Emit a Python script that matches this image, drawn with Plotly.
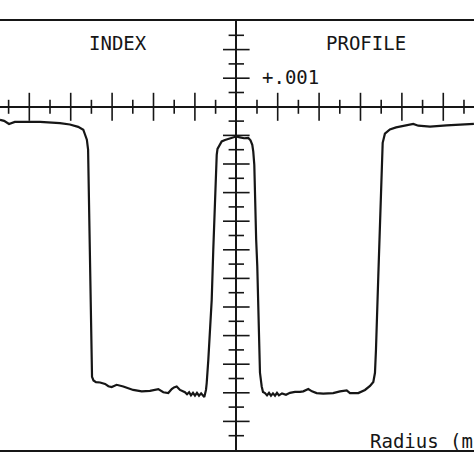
import plotly.graph_objects as go

# ---- data (radius in microns, index difference) ----
radius = [-57.08, -56.1, -54.9, -53.5, -47.4, -42.6, -40.2, -38.2, -36.96, -36.1, -35.8,
          -35.6, -35.4, -35.2, -35.0, -34.95, -34.85, -34.5, -33.9, -32.9, -31.7, -30.9,
          -30.1, -28.9, -27.3, -24.9, -22.85, -20.85, -18.84, -17.63, -16.43, -15.6,
          -15.05, -14.4, -13.96, -13.6, -12.4, -11.9, -11.4, -10.95, -10.46, -9.98, -9.5,
          -9.0, -8.5, -8.04, -7.73, -7.32, -7.15, -6.76, -6.35, -5.94, -5.56, -5.14, -4.9,
          -4.73, -4.54, -4.18, -3.53, -2.73, -1.93, -1.04, -0.07, 0.89, 1.86, 2.9, 3.43,
          3.86, 4.1, 4.35, 4.52, 4.8, 5.07, 5.31, 5.56, 5.72, 6.14, 6.45, 6.93, 7.42, 7.9,
          8.38, 8.86, 9.35, 9.83, 10.3, 11.04, 12.0, 12.96, 14.18, 15.39, 16.18, 17.39,
          18.28, 19.4, 21.0, 23.4, 25.05, 26.67, 27.46, 29.47, 31.09, 32.3, 33.1, 33.5,
          33.74, 34.3, 34.88, 35.2, 35.36, 35.9, 37.1, 38.6, 40.3, 42.75, 43.96, 46.8,
          50.8, 54.0, 57.4]
delta_n = [-0.455, -0.49, -0.60, -0.53, -0.53, -0.57, -0.62, -0.70, -0.80, -1.15, -1.50,
           -3.25, -5.0, -6.75, -8.5, -9.2, -9.44, -9.57, -9.63, -9.64, -9.69, -9.77,
           -9.80, -9.72, -9.78, -9.90, -9.95, -9.93, -9.87, -9.98, -10.01, -9.87,
           -9.81, -9.78, -9.86, -9.90, -9.98, -10.05, -9.98, -10.09, -10.0, -10.10, -10.0,
           -10.1, -10.02, -10.12, -10.15, -9.90, -9.66, -8.85, -7.80, -6.75, -5.0, -3.25, -2.09,
           -1.68, -1.47, -1.36, -1.21, -1.16, -1.13, -1.08, -1.04, -1.07, -1.10, -1.09, -1.17,
           -1.33, -1.57, -2.03, -3.25, -4.65, -5.58, -6.75, -7.90, -9.30, -9.78, -9.97, -10.01, -10.09, -10.0,
           -10.10, -10.02, -10.10, -10.0, -10.09, -10.02, -10.07, -10.0, -9.97, -9.97, -9.95, -9.87,
           -9.95, -10.01, -10.03, -10.01, -9.95, -9.92, -10.01, -10.01, -9.90, -9.76, -9.62, -9.30,
           -8.50, -5.93, -3.60, -1.85, -1.26, -0.94, -0.79, -0.72, -0.67, -0.60, -0.66, -0.69,
           -0.65, -0.63, -0.60]
delta_n = [v * 1e-3 for v in delta_n]

# axis tick marks drawn on the cross-hair axes
x_major_ticks = [-50, -40, -30, -20, -10, 10, 20, 30, 40, 50]
x_minor_ticks = [-55, -45, -35, -25, -15, -5, 5, 15, 25, 35, 45, 55]
y_major_ticks = [v * 1e-3 for v in [2, 1, -1, -2, -3, -4, -5, -6, -7, -8, -9, -10, -11]]
y_minor_ticks = [v * 1e-3 for v in [2.5, 1.5, 0.5, -0.5, -1.5, -2.5, -3.5, -4.5, -5.5, -6.5,
                                    -7.5, -8.5, -9.5, -10.5, -11.5]]

INK = "#161616"
FONT = "DejaVu Sans Mono"

fig = go.Figure()

fig.add_trace(go.Scatter(x=x_major_ticks, y=[0] * len(x_major_ticks), mode="markers",
                         marker=dict(symbol="line-ns", size=20, line=dict(color=INK, width=1.6)),
                         hoverinfo="skip", showlegend=False))
fig.add_trace(go.Scatter(x=x_minor_ticks, y=[0] * len(x_minor_ticks), mode="markers",
                         marker=dict(symbol="line-ns", size=10, line=dict(color=INK, width=1.6)),
                         hoverinfo="skip", showlegend=False))
fig.add_trace(go.Scatter(x=[0] * len(y_major_ticks), y=y_major_ticks, mode="markers",
                         marker=dict(symbol="line-ew", size=19, line=dict(color=INK, width=1.6)),
                         hoverinfo="skip", showlegend=False))
fig.add_trace(go.Scatter(x=[0] * len(y_minor_ticks), y=y_minor_ticks, mode="markers",
                         marker=dict(symbol="line-ew", size=11, line=dict(color=INK, width=1.6)),
                         hoverinfo="skip", showlegend=False))

fig.add_trace(go.Scatter(x=radius, y=delta_n, mode="lines",
                         line=dict(color=INK, width=2.2),
                         hoverinfo="skip", showlegend=False))

fig.update_xaxes(range=[-57.08, 57.42], showgrid=False, showticklabels=False, ticks="",
                 zeroline=True, zerolinecolor=INK, zerolinewidth=1.8,
                 showline=True, mirror=True, linecolor=INK, linewidth=1.8)
fig.update_yaxes(range=[-0.012, 0.003], showgrid=False, showticklabels=False, ticks="",
                 zeroline=True, zerolinecolor=INK, zerolinewidth=1.8, showline=False)

txt = dict(family=FONT, size=19, color=INK)
fig.add_annotation(x=-28.6, y=0.00224, text="INDEX", showarrow=False, font=txt)
fig.add_annotation(x=31.3, y=0.00224, text="PROFILE", showarrow=False, font=txt)
fig.add_annotation(x=13.1, y=0.00105, text="+.001", showarrow=False, font=txt)
fig.add_annotation(x=31.8, y=-0.0117, text="Radius (m", showarrow=False,
                   xanchor="left", font=txt)

fig.update_layout(width=474, height=474, margin=dict(l=0, r=0, t=21, b=24),
                  paper_bgcolor="white", plot_bgcolor="white")

fig.write_html("out.html", config={"displayModeBar": False},
               post_script="document.body.style.margin='0';document.body.style.overflow='hidden';")
